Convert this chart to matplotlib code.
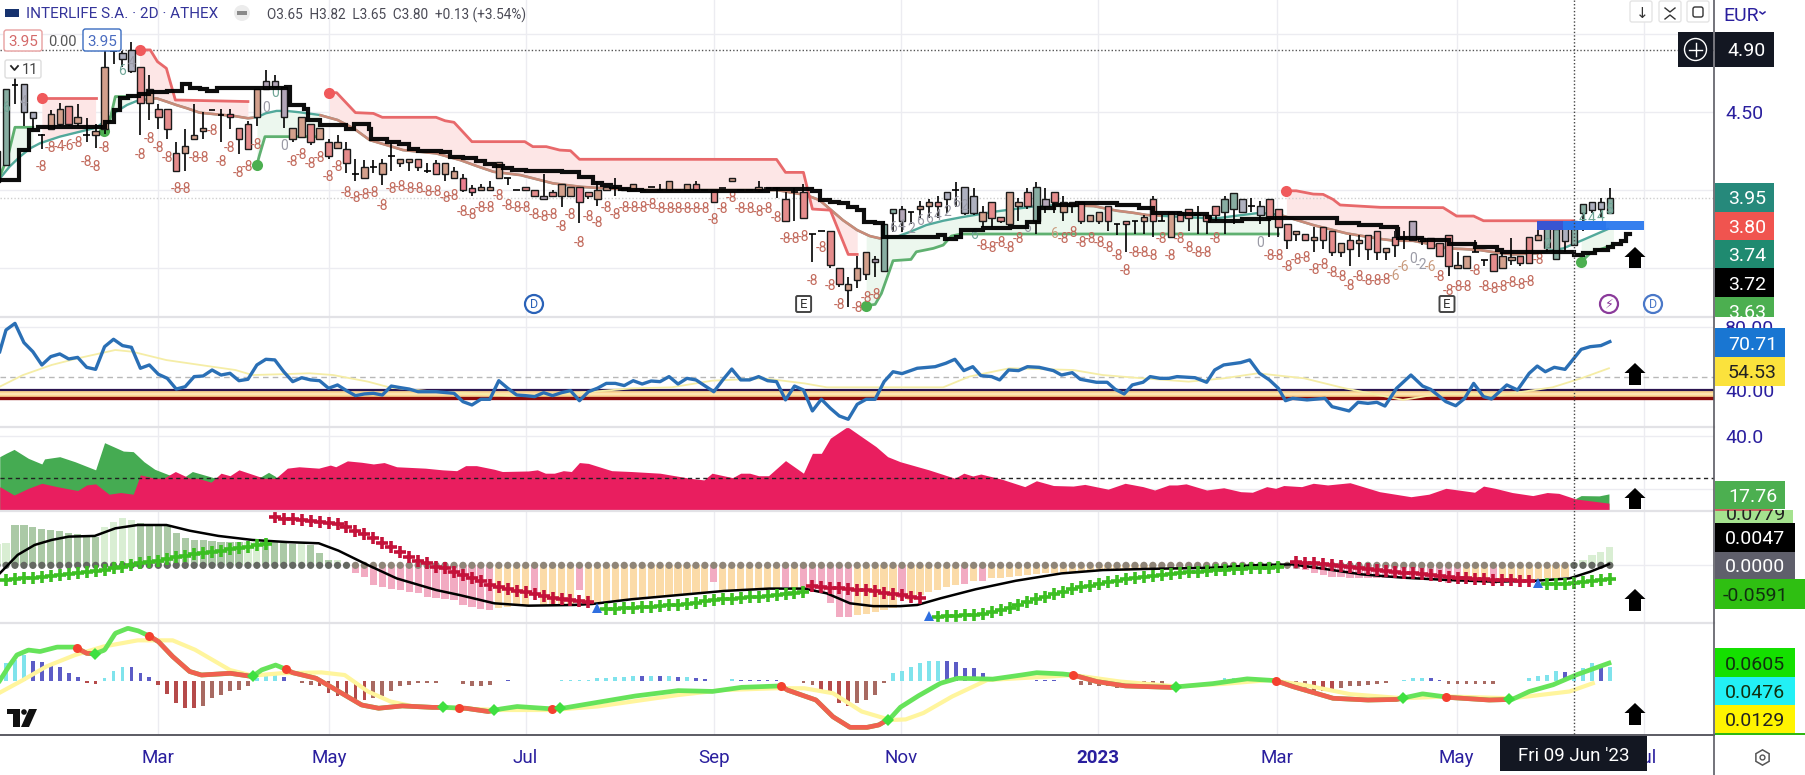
import numpy as np
import matplotlib
matplotlib.use("Agg")
import matplotlib.pyplot as plt
from matplotlib.patches import Rectangle, FancyBboxPatch, Circle, Polygon

plt.rcParams['font.family'] = ['Roboto', 'DejaVu Sans']

# ---------- candles (bar index = position in list) ----------
highs = [4.25,4.65,4.72,4.68,4.50,4.36,4.51,4.56,4.54,4.55,4.46,4.42,4.94,4.90,4.89,4.95,4.79,4.74,4.55,4.52,
 4.31,4.39,4.55,4.50,4.51,4.52,4.52,4.40,4.44,4.65,4.77,4.74,4.66,4.40,4.47,4.42,4.40,4.33,4.35,4.31,
 4.20,4.19,4.19,4.20,4.30,4.20,4.20,4.20,4.17,4.19,4.17,4.15,4.10,4.03,4.04,4.06,4.18,4.08,4.00,4.02,
 4.00,4.10,4.00,4.04,4.02,4.02,3.99,4.06,4.02,4.08,4.01,4.04,4.00,4.02,4.04,4.06,4.00,4.04,4.06,4.00,
 4.00,4.01,4.08,4.00,4.00,4.06,4.01,4.02,3.99,4.01,4.04,3.72,3.74,3.74,3.50,3.44,3.58,3.60,3.58,3.80,
 3.88,3.90,3.86,3.93,3.94,3.96,3.99,4.05,4.02,4.01,3.90,3.92,3.83,3.99,3.95,4.01,4.05,4.01,3.99,3.96,
 3.92,3.92,3.84,3.86,3.90,3.78,3.80,3.80,3.84,3.96,3.84,3.86,3.86,3.88,3.90,3.84,3.90,3.96,3.98,3.94,
 3.95,3.93,3.94,3.88,3.78,3.74,3.72,3.76,3.76,3.74,3.66,3.71,3.71,3.71,3.74,3.63,3.74,3.74,3.80,3.69,
 3.69,3.66,3.71,3.60,3.58,3.68,3.55,3.59,3.60,3.69,3.58,3.70,3.75,3.76,3.78,3.80,3.80,3.91,3.92,3.95,4.01]
body_top = [4.25,4.65,4.67,4.68,4.50,4.35,4.49,4.52,4.54,4.47,4.35,4.38,4.79,4.89,4.88,4.90,4.79,4.65,4.52,4.52,
 4.24,4.28,4.35,4.40,4.51,4.48,4.49,4.40,4.42,4.65,4.70,4.70,4.66,4.40,4.47,4.42,4.40,4.31,4.31,4.26,
 4.10,4.15,4.15,4.17,4.22,4.20,4.20,4.20,4.12,4.17,4.17,4.12,4.08,4.01,4.02,4.02,4.18,4.08,4.00,4.02,
 4.00,3.96,3.99,4.04,4.02,4.02,3.99,4.00,4.02,4.01,4.01,4.04,4.00,4.02,4.00,4.06,4.00,4.04,4.04,4.00,
 4.00,4.01,4.08,4.00,4.00,4.02,4.01,4.01,3.94,3.99,3.99,3.72,3.74,3.74,3.50,3.40,3.50,3.60,3.56,3.78,
 3.88,3.88,3.86,3.90,3.92,3.92,3.99,4.00,4.02,3.96,3.86,3.92,3.83,3.99,3.92,3.99,4.02,3.94,3.99,3.92,
 3.92,3.92,3.84,3.86,3.90,3.78,3.80,3.80,3.83,3.94,3.80,3.86,3.86,3.88,3.84,3.84,3.90,3.94,3.98,3.94,
 3.90,3.90,3.94,3.88,3.78,3.74,3.72,3.70,3.76,3.74,3.66,3.68,3.68,3.71,3.74,3.63,3.70,3.69,3.80,3.69,
 3.69,3.66,3.71,3.52,3.58,3.60,3.55,3.59,3.58,3.57,3.58,3.70,3.71,3.76,3.75,3.78,3.80,3.91,3.92,3.92,3.95]
body_bot = [4.05,4.16,4.66,4.50,4.46,4.35,4.39,4.42,4.42,4.43,4.35,4.35,4.39,4.89,4.84,4.76,4.56,4.56,4.47,4.39,
 4.12,4.24,4.33,4.38,4.51,4.48,4.47,4.33,4.26,4.47,4.65,4.66,4.47,4.33,4.34,4.31,4.33,4.22,4.27,4.17,
 4.10,4.08,4.15,4.10,4.22,4.17,4.18,4.15,4.12,4.10,4.10,4.08,4.00,3.99,4.00,4.00,4.08,4.08,4.00,4.00,
 3.96,3.94,3.96,3.96,3.96,3.92,3.96,3.94,4.00,4.01,4.00,4.00,4.00,4.02,4.00,4.00,4.00,4.00,4.00,4.00,
 3.92,4.01,4.06,4.00,4.00,4.00,4.01,4.01,3.80,3.99,3.82,3.72,3.74,3.52,3.40,3.36,3.42,3.46,3.54,3.48,
 3.85,3.80,3.86,3.88,3.90,3.90,3.94,4.00,3.85,3.85,3.80,3.82,3.80,3.78,3.90,3.90,3.80,3.90,3.92,3.86,
 3.90,3.80,3.80,3.80,3.80,3.78,3.78,3.80,3.80,3.80,3.80,3.70,3.80,3.82,3.84,3.80,3.84,3.86,3.88,3.86,
 3.90,3.84,3.82,3.76,3.68,3.72,3.68,3.68,3.68,3.60,3.60,3.62,3.66,3.62,3.60,3.60,3.65,3.69,3.68,3.67,
 3.63,3.58,3.51,3.50,3.50,3.60,3.55,3.48,3.50,3.55,3.53,3.53,3.68,3.63,3.56,3.67,3.65,3.85,3.87,3.88,3.85]
lows = [4.00,4.16,4.55,4.41,4.39,4.26,4.39,4.41,4.41,4.41,4.31,4.27,4.36,4.81,4.79,4.75,4.35,4.45,4.39,4.33,
 4.12,4.12,4.33,4.33,4.51,4.31,4.39,4.23,4.26,4.41,4.65,4.66,4.40,4.31,4.34,4.29,4.33,4.20,4.26,4.11,
 4.06,4.08,4.11,4.03,4.12,4.15,4.12,4.12,4.11,4.10,4.06,4.08,3.99,3.96,4.00,4.00,4.08,4.03,4.00,4.00,
 3.96,3.94,3.96,3.89,3.96,3.79,3.94,3.90,4.00,3.96,4.00,4.00,4.00,4.02,4.00,4.00,4.00,4.00,4.00,4.00,
 3.92,4.01,4.06,4.00,4.00,3.99,4.01,3.95,3.80,3.80,3.82,3.54,3.74,3.50,3.38,3.25,3.37,3.42,3.44,3.48,
 3.73,3.73,3.78,3.82,3.82,3.82,3.85,3.89,3.84,3.84,3.76,3.76,3.79,3.78,3.80,3.88,3.72,3.85,3.85,3.80,
 3.85,3.78,3.80,3.78,3.74,3.71,3.60,3.72,3.72,3.70,3.80,3.70,3.80,3.74,3.72,3.72,3.80,3.72,3.78,3.86,
 3.86,3.78,3.70,3.70,3.62,3.67,3.68,3.60,3.62,3.58,3.57,3.51,3.57,3.55,3.55,3.55,3.57,3.62,3.68,3.65,
 3.63,3.57,3.45,3.50,3.50,3.60,3.51,3.48,3.50,3.52,3.51,3.53,3.68,3.60,3.56,3.60,3.65,3.74,3.85,3.82,3.85]
candle_tone = ("kkxggxttrt" "xttxggrtrr" "rtttxxdrrt" "mmmttrtrtr" "xtxtxttrxr" "ttpptttxxr"
               "rmrttprttx" "ttxxxtxtrx" "rxtxxtxxrx" "rxxrrtttmk" "kmxttrgxgg" "trrttrkmrt"
               "rrttrxrxtr" "xtrrxrrkkg" "xgrrrtrtrr" "trtrrtrxmt" "rrrttxxrtt" "rrtkkgkkgg" "k")
tone_colors = {'k':'#88ada2','g':'#aeb0bf','m':'#b3a6b8','t':'#d3a08c','r':'#e58c8c','p':'#ea7f90','d':'#e4566a','x':'#000000'}

# ---------- wave labels under the candles ----------
wave_bars = [5,6,7,8,9,10,11,12,16,17,18,19,20,21,22,23,24,25,26,27,28,29,33,34,35,36,
 37,38,39,40,41,42,43,44,45,46,47,48,49,50,51,52,53,54,55,56,57,58,59,60,61,62,63,64,65,66,67,68,69,70,71,
 72,73,74,75,76,77,78,79,80,81,82,83,84,85,86,87,88,89,90,91,92,93,94,96,97,98,
 110,111,112,113,114,119,120,121,122,123,124,125,126,127,128,129,130,131,132,133,134,135,136,142,143,
 144,145,146,147,148,149,150,151,152,153,154,155,161,162,163,164,165,166,167,168,169,170,171,172]
wave_vals = [4.146,4.267,4.278,4.282,4.30,4.182,4.146,4.267,4.225,4.325,4.267,4.203,4.005,4.005,4.203,4.203,4.381,4.182,4.267,4.107,4.146,4.289,4.182,4.225,4.167,4.203,
 4.081,4.145,3.979,3.947,3.968,3.979,3.90,4.006,4.021,4.004,4.006,3.985,3.985,3.947,3.964,3.861,3.84,3.882,3.882,3.964,3.90,3.882,3.882,3.84,3.825,3.84,3.76,3.84,3.662,3.825,3.786,3.882,3.84,3.882,3.882,
 3.882,3.903,3.876,3.876,3.876,3.876,3.876,3.876,3.807,3.876,3.946,3.876,3.876,3.861,3.876,3.818,3.683,3.683,3.696,3.416,3.626,3.384,3.262,3.241,3.305,3.326,
 3.641,3.626,3.662,3.626,3.684,3.684,3.722,3.662,3.684,3.662,3.626,3.577,3.483,3.598,3.598,3.577,3.684,3.577,3.684,3.626,3.598,3.598,3.684,3.577,3.577,
 3.504,3.551,3.562,3.487,3.519,3.466,3.44,3.384,3.44,3.418,3.418,3.423,3.44,3.354,3.38,3.38,3.483,3.38,3.363,3.38,3.401,3.391,3.412,3.551]
wave_texts = ["-8","-8","-4","-6","-8"] + ["-8"]*(len(wave_bars)-5)
faint_bars = [1,3,14,15,30,31,32,100,101,102,103,104,105,106,107,108,109,115,118,141,156,157,158,159,160,173,177,178,179,180]
faint_vals = [4.525,4.567,4.76,4.817,4.525,4.62,4.282,3.754,3.769,3.747,3.803,3.814,3.835,3.861,3.914,3.897,3.711,3.754,3.718,3.662,3.45,3.504,3.555,3.519,3.504,3.647,3.812,3.812,3.825,3.872]
faint_texts = ["6","4","6","4","0","0","0","6","4","2","6","6","4","2","6","2","6","6","6","0","-6","-6","0","-2","-6","2","4","4","4","5"]
faint_tones = ["k","g","k","g","g","k","g","g","g","g","g","g","g","g","g","g","k","g","t","g","t","t","g","g","t","k","k","k","k","k"]

# ---------- trend lines on the price pane ----------
stair_bars = [0,2.5,3.6,4.6,12,13,13.7,14.6,15.8,17,19,20.6,21.5,22.6,23.4,24.5,32.3,32.7,34.3,34.7,36,39,39.8,41.5,41.7,43.5,44.9,46,47,49.5,50.5,52,53.5,54.5,55.5,56.5,57.5,59,63,65,66.5,67.5,68.5,69.5,70.5,72,86,91,91.8,93,94,95,96,96.8,98,98.9,105,105.8,107,107.6,110,113,115,116.3,118,120.5,125,127.5,129,132,135,135.4,139,142,143,149.5,152,154.5,156.2,156.4,159,162,165,167.4,168,176,177,178.3,179.8,180.4,181.2,181.8,182.2]
stair_vals = [4.064,4.257,4.385,4.406,4.438,4.513,4.588,4.605,4.614,4.631,4.635,4.678,4.655,4.646,4.637,4.652,4.66,4.545,4.519,4.449,4.417,4.389,4.423,4.389,4.325,4.31,4.293,4.261,4.252,4.246,4.214,4.205,4.188,4.167,4.154,4.142,4.128,4.124,4.117,4.085,4.047,4.031,4.021,4.009,4.0,3.995,4.004,3.995,3.935,3.925,3.915,3.893,3.871,3.797,3.786,3.70,3.711,3.683,3.696,3.743,3.754,3.765,3.797,3.882,3.904,3.914,3.904,3.882,3.85,3.844,3.829,3.803,3.812,3.822,3.818,3.786,3.775,3.76,3.75,3.69,3.679,3.654,3.632,3.615,3.60,3.583,3.594,3.615,3.632,3.654,3.67,3.72,3.72]
ema_bars = [0.33,1.4,2.56,3.7,4.8,7,9.25,11.1,12.2,13.3,14.5,15.6,17.8,18.9,20,21.2,22.6,24.5,26.4,28,29,30,31.2,32.3,33.8,36,38,39.8,41.6,43.5,45.3,49,51.7,53.5,55.4,58.4,62,65,67.6,71.7,87,90.3,91.8,93.1,94.4,96,97.4,98.5,100.4,101.9,103.7,105.6,107.6,111.3,115.5,118.5,122.4,125,126.8,128.3,133,136,139,141,143.2,146.9,150.6,154.4,156,158,159.9,161.8,163.6,165.5,167.4,169.2,171.8,172.6,174.8,177.4,179.8]
ema_vals = [4.075,4.15,4.214,4.267,4.30,4.342,4.374,4.40,4.449,4.502,4.545,4.571,4.588,4.567,4.545,4.524,4.496,4.485,4.475,4.46,4.466,4.492,4.507,4.507,4.498,4.481,4.449,4.395,4.32,4.288,4.256,4.235,4.192,4.154,4.117,4.096,4.043,4.021,4.011,4.0,4.0,3.968,3.935,3.871,3.807,3.743,3.705,3.69,3.70,3.732,3.775,3.803,3.825,3.861,3.893,3.904,3.897,3.867,3.854,3.84,3.825,3.818,3.84,3.854,3.84,3.775,3.722,3.686,3.675,3.675,3.654,3.626,3.622,3.615,3.598,3.587,3.594,3.604,3.626,3.69,3.75]
ema_brown_zones = [(15.7,28.5),(36,98.7),(119,130),(143.4,172.3)]

red_a_bars = [5,11]; red_a_vals = [4.592,4.592]
red_b_bars = [15.9,17.1,17.9,18.9,19.9,28]; red_b_vals = [4.898,4.898,4.823,4.78,4.577,4.567]
red_c_bars = [37.1,37.9,40,42,43,49,50,51,53,58.9,59.8,61.3,62.8,64,65,71.7,87,88,90,91,93,95,96]
red_c_vals = [4.624,4.624,4.496,4.491,4.466,4.466,4.444,4.434,4.31,4.31,4.278,4.278,4.256,4.252,4.197,4.197,4.196,4.113,4.113,3.878,3.871,3.587,3.587]
red_d_bars = [143.9,145,146.9,148,149.1,149.9,154.4,161.4,162.9,164.8,165.9,171.8,175.9]
red_d_vals = [3.995,3.995,3.974,3.972,3.94,3.904,3.889,3.887,3.833,3.833,3.803,3.803,3.803]
green_a_bars = [0.3,1.2,2,4]; green_a_vals = [4.086,4.214,4.402,4.402]
green_b_bars = [11.9,12.6,13.2,15]; green_b_vals = [4.378,4.449,4.599,4.599]
green_c_bars = [29,29.3,29.9,36]; green_c_vals = [4.161,4.225,4.342,4.342]
green_d_bars = [97,98,98.7,99.5,100,102,102.6,104.5,105.6,106.5,107.6,143]
green_d_vals = [3.258,3.267,3.337,3.465,3.547,3.555,3.604,3.626,3.647,3.705,3.718,3.718]
green_e_bars = [176.8,177.8,178.9,180.4]; green_e_vals = [3.54,3.594,3.619,3.647]

# ---------- RSI ----------
rsi_bars = [0.3,1,2,3,4,5,6,7,8,9,10,11,12,13,14,15,16,17,18,19,20,21,22,23,24,25,26,27,28,29,30,31,32,33,34,35,36,37,38,39,40,41,42,43,44,45,46,47,49,51,52,53,54,55,56,57,58,59,60,61,62,63,64,65,66,67,68,69,70,71,72,73,74,75,76,77,78,80,81,82,83,84,85,86,87,88,89,90,91,92,93,94,95,96,97,98,99,100,101,102.7,104.7,105.9,106.9,107.9,108.9,109.8,111,111.9,112.9,114,115,116.3,117.9,118.8,120,120.9,122.7,123.9,124.8,125.8,126.7,127.9,128.7,129.8,130.8,131.7,133.7,135,135.9,136.9,138.8,139.8,140.9,142,143,143.8,144.6,146.2,148.2,149,150.9,151.9,153,154,154.9,156.2,157.8,159.1,160,161.7,162.8,163.8,164.8,165.9,166.8,168.5,169.7,171,171.9,172.8,173.8,175,176.8,177.8,179,180]
rsi_vals = [64.3,78.1,82.3,70.1,64.3,55.9,61.2,62.9,59.7,60.7,54.4,53.1,67.5,72.2,68.2,67.1,53.8,55.9,50,47.4,40.6,42.1,48.5,48.9,52.7,49.5,50.6,45.9,46.8,55.9,59.5,59.1,51.6,45.3,47.8,46.4,45.9,41.1,43.2,39.6,36.4,37.5,37.9,36.8,42.5,41.5,40.6,38.9,38.9,37.9,32.6,30.5,34.1,34.1,45.9,41.1,36.8,36.4,35.8,38.3,36.4,38.3,39.6,33.2,38.9,41.1,44.2,44.2,42.8,45.9,43.8,45.7,45.3,48.5,43.8,47.4,46.4,38.9,46.4,53.3,46.4,46.4,48.5,45.9,45.3,33.7,42.5,40,26.7,34.1,28.4,23.5,21.4,30.9,34.1,34.1,45.3,51.6,50.4,53.8,54.8,57,59.5,52.3,54.8,49.1,48.5,46.4,52.7,52.3,54.8,54.4,52.3,49.5,51,46.8,44.9,44.9,40.4,37.5,43.2,44.9,48.5,47.4,47.4,48.5,47.8,44.9,52.7,55.9,57.4,59.1,50.6,46.4,41.1,33.2,34.7,33.7,34.7,29.4,26.7,32.2,31.5,32.2,29.8,41.1,49.5,42.5,40.4,32.6,30,34.7,44.2,35.8,34.3,43.2,40,50.6,55.2,51.6,54.4,53.1,65.8,67.5,68.2,70.71]
rsi_ma_bars = [0.3,2.9,6.1,9,13.2,15.1,18.9,24,26.6,28.5,31.7,34.9,37.5,41.4,43.9,49,58,64.4,70.8,75.3,79.8,85.6,90.1,92.6,105.6,108.5,113,120.1,123.4,127.9,133,136.9,140.7,145.9,150.4,156.9,161.4,167.8,173.6,176.8,179.9]
rsi_ma_vals = [42.1,49.5,55.9,60.1,65.4,64.3,59,54.8,52.7,49.5,50,50.6,49.5,45.3,41.5,38.9,36.2,37.9,41,41.7,45.9,47.4,44.2,41.7,41.7,48.5,53.8,52.7,49.5,47.4,45.3,47.4,50.6,47.4,41.1,33.7,37.9,36.8,41.7,47.4,53.8]

# ---------- directional movement areas ----------
di_minus_bars = [0.3,1.9,3.5,5,6.7,9,10,11,12.5,13.8,15.2,16,17.6,18.6,19.9,21.5,22.4,23.9,25,26,27,28.5,29.8,31.1,32.4,33.7,35.9,37.2,37.8,39.1,40.7,42,43.2,44.6,47.8,49.7,51.3,52.3,53.5,55.5,56.4,59.3,60.3,61.2,62.2,63.2,64.1,65,66,68.6,70.8,74,77.3,78.9,79.8,82.1,83,84,85,86.1,88,90,91,92,93,94.9,96.2,98.1,99.4,100.8,104,106.9,107.9,108.9,109.8,112.1,114.7,116,117.9,120.1,121.4,124,125.9,127.9,129.2,130.8,131.7,132.7,135,136.9,138.8,140.1,141.7,142.7,143.6,145.6,146.9,148.5,151,154.3,157.8,159.8,161.7,164.9,165.9,167.2,169.1,171.4,173,174.3,176.2,179.9]
di_minus_vals = [21.9,18.9,21.3,23.1,21.9,20.5,22.5,22.9,19.2,19.8,19.2,26.1,24.9,24.9,27.3,24.9,24.9,23.5,26.7,25.8,27.9,26.3,24.9,24.9,28.5,29,28.5,29.6,29,31.1,30.6,30,30.5,29,28.5,27.9,27.6,29.4,29.4,28.1,27.3,27.5,27.9,26.7,26.7,27.6,27.3,30.5,30.2,27.6,27.3,26.7,24.9,24.3,26.7,25.1,26.7,26.7,25.8,25.8,31.2,26.7,33.8,33.8,39.2,43.3,40.4,36.2,32.6,30.8,27.9,24.9,26.7,25.7,26.4,24.6,21.9,24,22.3,22.1,22.7,21,23.1,21.9,20.7,22.5,22.5,22.9,20.7,21.5,20.1,19.9,21.9,21.3,22.3,21.9,23.1,22.5,23.3,20.1,18.3,19.2,21.3,19.9,22.1,21.3,19.8,18.7,19.8,19.5,17.5,16]
di_plus_early_bars = [0.3,1,1.9,3.5,5,5.3,7,8.7,11,12,14.1,15.2,16.4,17.6,19.2,20.8,21.8,24.4,29.5,30.3,31.1]
di_plus_early_vals = [32.6,33.8,35.2,32,30,31.8,32.6,30.8,27.9,37.6,34.6,34.4,30.8,28.1,26.1,25.1,27.3,24.9,25.5,27,25.5]
di_plus_late_bars = [176.2,176.8,178.8,179.9]
di_plus_late_vals = [17.7,18.7,18.6,19.3]

# ---------- first oscillator ----------
hist_vals = [.09,.096,.17,.17,.16,.153,.149,.146,.138,.132,.128,.121,.163,.184,.198,.191,.18,.174,.172,.167,
 .138,.114,.107,.107,.104,.1,.097,.097,.097,.097,.097,.097,.093,.09,.093,.086,.051,.023,.023,.004,
 -.034,-.051,-.083,-.093,-.101,-.104,-.111,-.118,-.132,-.139,-.142,-.146,-.167,-.177,-.186,-.188,-.181,-.174,-.167,-.167,
 -.118,-.167,-.167,-.167,-.167,-.104,-.163,-.156,-.153,-.149,-.146,-.142,-.139,-.135,-.132,-.129,-.125,-.121,-.118,-.115,
 -.069,-.111,-.108,-.104,-.101,-.1,-.098,-.097,-.09,-.097,-.097,-.104,-.111,-.158,-.217,-.217,-.21,-.205,-.198,-.188,
 -.181,-.139,-.146,-.125,-.111,-.104,-.093,-.083,-.079,-.065,-.065,-.055,-.052,-.048,-.044,-.041,-.037,-.034,-.031,-.028,
 -.027,-.025,-.024,-.023,-.023,-.022,-.022,-.021,-.02,-.02,-.019,-.018,-.018,-.017,-.016,-.015,-.014,-.013,-.012,-.012,
 -.011,-.01,-.01,-.008,-.009,-.017,-.02,-.034,-.041,-.048,-.051,-.055,-.055,-.055,-.055,-.055,-.055,-.055,-.055,-.055,
 -.055,-.062,-.073,-.069,-.065,-.065,-.073,-.079,-.069,-.065,-.062,-.059,-.056,-.055,-.052,-.048,.008,.023,.044,.058,.0779]
hist_tones = ("PP" "DDDDDDDDDD" "PPPP" "DDDDDDDDDDDD" "PP" "DDDD" "P" "DDD" "P" "D"
              "KKKKKKKKKKKKKKKK" "OOOO" "K" "OOOO" "K" "OOOOOOOOOOOOOO" "K" "OOOOOOO" "K" "O" "KKKKKK" "OOOOO" "K" "OOOOOO" "K" "O" "K"
              "OOOOOOOOOOOOOOOOOOOOOOOOOOOOOOOOO" "KKKKKKKKKKKKKKKKKKKK" "OOO" "K" "OOOOOOOO" "PPPPP")
hist_colors = {'P':'#d9eed3','D':'#abc9a6','K':'#f2abc2','O':'#fbdba8'}
osc_bars = [0.3,2.3,4.2,6.1,8,10.9,13.2,15.7,18.9,21.5,24.7,28.5,32.4,35.9,38.1,41.4,44.6,49,51.6,55.5,59.3,64.4,66.4,70.8,77.3,81.1,86.2,90.1,92.6,95.2,97.8,100.8,102.7,105.3,109.2,113.7,118.8,123.4,128.5,135.6,140.7,144.6,148.5,152.3,156.9,162,167.2,171.7,175.5,177.8,179.9]
osc_vals = [-.034,.044,.086,.107,.121,.124,.156,.17,.17,.146,.124,.107,.098,.093,.062,.001,-.055,-.104,-.125,-.16,-.17,-.167,-.163,-.143,-.121,-.108,-.098,-.098,-.118,-.16,-.172,-.172,-.167,-.139,-.101,-.065,-.034,-.02,-.015,-.01,.001,.004,-.017,-.038,-.052,-.062,-.069,-.065,-.055,-.027,.0047]
sar_up_1_start = 1
sar_up_1 = [-.062,-.058,-.055,-.052,-.048,-.045,-.042,-.038,-.034,-.03,-.025,-.02,-.013,-.006,.001,.008,.015,.02,.027,.034,.041,.046,.052,.056,.062,.068,.072,.079,.084,.09]
sar_dn_1_start = 31
sar_dn_1 = [.203,.197,.194,.191,.187,.184,.18,.173,.163,.146,.132,.114,.096,.076,.058,.037,.02,.008,-.006,-.013,-.027,-.041,-.055,-.065,-.083,-.093,-.101,-.108,-.114,-.122,-.129,-.136,-.142,-.146,-.149,-.153]
sar_up_2_start = 68
sar_up_2 = [-.184,-.183,-.181,-.18,-.177,-.174,-.172,-.169,-.166,-.163,-.158,-.152,-.146,-.143,-.141,-.138,-.135,-.132,-.129,-.127,-.122,-.118,-.114]
sar_dn_2_start = 91
sar_dn_2 = [-.087,-.091,-.094,-.097,-.1,-.103,-.105,-.11,-.115,-.121,-.127,-.132,-.138]
sar_up_3_start = 105
sar_up_3 = [-.217,-.215,-.214,-.211,-.208,-.203,-.195,-.188,-.179,-.167,-.156,-.143,-.132,-.121,-.111,-.101,-.093,-.086,-.079,-.072,-.065,-.059,-.055,-.051,-.046,-.042,-.038,-.034,-.03,-.027,-.024,-.021,-.018,-.017,-.014,-.013,-.011,-.01,-.008]
sar_dn_3_start = 145
sar_dn_3 = [.013,.011,.008,.004,.001,-.003,-.007,-.011,-.015,-.02,-.024,-.027,-.031,-.034,-.037,-.041,-.045,-.048,-.052,-.055,-.058,-.059,-.06,-.062,-.063,-.065,-.066]
sar_up_4_start = 173
sar_up_4 = [-.08,-.079,-.077,-.075,-.072,-.068,-.063,-.0591]
flip_bars = [67,104,172]
flip_vals = [-.181,-.214,-.073]

# ---------- second oscillator ----------
macd_bars = [0.3,1.3,2.2,3.5,4.8,6.7,8.7,10,10.9,12,13.2,14.6,15.7,17,18,19.6,21.5,22.8,26,28.5,29.5,31.1,32.2,33,35.6,37.2,38.8,40.7,42.6,45.2,48.4,50,52.3,54.8,56.1,58,61.9,63.1,66.4,70.8,76,79.8,83,87.5,88.2,91.4,93.3,95.2,97.1,98.4,99.7,100.8,102.7,105.3,107.2,111.1,113.7,116,118.8,120.1,122.7,125.9,131,135.5,139.5,142.7,144.6,149.1,153,156.2,159.1,162,166.5,169.1,171,173.6,176.2,179.9]
macd_vals = [.001,.049,.088,.105,.1,.115,.115,.094,.092,.105,.162,.179,.171,.153,.134,.083,.032,.02,.026,.015,.037,.054,.04,.028,.009,-.019,-.048,-.082,-.093,-.085,-.09,-.09,-.093,-.104,-.096,-.087,-.095,-.093,-.076,-.053,-.033,-.036,-.022,-.017,-.031,-.065,-.122,-.158,-.158,-.15,-.127,-.09,-.053,-.008,.009,.006,.017,.028,.024,.02,-.002,-.017,-.022,-.010,.007,.001,-.019,-.059,-.065,-.063,-.044,-.056,-.065,-.063,-.036,-.014,.02,.0605]
macd_red_zones = [(8.9,10.9),(17,28.6),(32.2,49.8),(51.6,55.5),(61.9,62.8),(87.5,99.4),(120.1,131.6),(142.7,156.9),(161.7,168.8)]
signal_bars = [0.3,2.9,5.5,8.7,11.9,15.7,19.6,22.1,26,28.5,31.7,36.2,38.8,41.4,43.9,46.5,51,56.1,61.9,67,76,81.1,86.9,90.1,93.3,96.5,99.7,101.4,103.4,106.6,110.5,117.5,120.1,125.3,131.7,136.9,142,145.9,151,156.9,161.7,169.1,175.5,178.1]
signal_vals = [-.040,.003,.049,.088,.117,.138,.138,.106,.037,.018,.026,.029,.020,-.036,-.07,-.087,-.093,-.099,-.099,-.087,-.048,-.031,-.025,-.025,-.042,-.104,-.133,-.131,-.109,-.053,.003,.015,.02,-.002,-.019,-.010,.003,-.014,-.045,-.059,-.053,-.059,-.036,-.008]
hist2_bars = [1,2,3,4,5,6,7,8,9,10,11,12,13,14,15,16,17,18,19,20,21,22,23,24,25,26,27,28,29,30,31,32,34,35,36,37,38,39,40,41,42,43,44,45,46,47,48,49,52,53,54,55,56,57,58,59,63,64,65,66,67,68,69,70,71,72,73,74,75,76,77,78,79,82,83,84,85,86,87,90,91,92,93,94,95,96,97,98,99,100,101,102,103,104,105,106,107,108,109,110,111,112,114,115,116,117,118,121,122,123,124,125,126,127,128,129,130,137,138,139,140,141,142,143,144,145,146,147,148,149,150,151,152,153,154,155,157,158,159,160,161,162,163,164,165,166,167,171,172,173,174,175,176,177,178,179,180]
hist2_vals = [.062,.071,.088,.069,.066,.058,.046,.028,.015,-.006,-.01,.009,.035,.049,.046,.028,.015,-.014,-.044,-.074,-.093,-.093,-.087,-.059,-.048,-.036,-.031,-.019,.011,.018,.026,.015,-.008,-.014,-.019,-.042,-.05,-.059,-.065,-.065,-.059,-.053,-.036,-.019,-.014,-.008,-.007,-.006,-.01,-.017,-.017,-.015,.001,.003,.001,.001,.003,.003,.002,.003,.009,.011,.015,.015,.017,.018,.017,.018,.017,.012,.012,.009,.006,.006,.003,.003,.003,.003,.003,-.008,-.014,-.031,-.042,-.076,-.087,-.076,-.065,-.048,-.008,.026,.034,.049,.06,.069,.069,.069,.066,.043,.043,.026,.015,.003,.001,.001,.003,.003,.003,-.014,-.014,-.017,-.019,-.025,-.025,-.023,-.019,-.017,-.014,.009,.009,.009,.009,.007,.003,-.008,-.014,-.019,-.025,-.036,-.036,-.036,-.025,-.019,-.017,-.014,-.011,-.008,.003,.009,.009,.009,.003,-.009,-.009,-.009,-.009,-.009,-.009,.009,.017,.02,.034,.032,.02,.043,.06,.049,.0476]
hist2_tones = list("cccii" "iiiirr" "ccc" "iii" "rrrrr" "dddddd" "ccc" "i"
                   "dd" "rrrrrr" "dddddddd" "dddd" "c" "iii" "ccccccccc" "icicicii" "c" "iiiii"
                   "dd" "rrrr" "dddd" "cccccc" "iiiiiii" "cc" "iii" "dddddddddd" "cccc" "ii"
                   "dddd" "rrr" "dddddd" "ccc" "ii" "dddddd" "cccc" "i" "ccc" "i" "c")
tone2 = {'c':'#7fe3ec','i':'#5c5cc6','r':'#b54a4a','d':'#a86a62'}

month_bars = [17.97,37.05,58.98,79.99,100.9,122.9,142.9,162.9,183.8]
month_labels = ["Mar","May","Jul","Sep","Nov","2023","Mar","May","Jul"]

# ---------- layout ----------
W, H = 1805, 775
PANE_R = 1714
fig = plt.figure(figsize=(W/100, H/100), dpi=100, facecolor='white')
xl = (2.96/8.96, (PANE_R+2.96)/8.96)
NAVY = '#2a1f9e'

def pane(top, bot, ylim):
    ax = fig.add_axes([0, 1-bot/H, PANE_R/W, (bot-top)/H])
    ax.set_xlim(*xl); ax.set_ylim(*ylim)
    for s in ax.spines.values():
        s.set_visible(False)
    ax.set_xticks(month_bars); ax.set_xticklabels([])
    ax.tick_params(length=0)
    ax.grid(True, color='#ececf1', lw=1); ax.set_axisbelow(True)
    ax.yaxis.tick_right()
    ax.tick_params(axis='y', labelsize=14, labelcolor=NAVY, pad=8)
    ax.patch.set_alpha(0)
    return ax

ax1 = pane(0, 317, (3.186, 5.218))
ax2 = pane(317, 427, (16.5, 86.35))
ax3 = pane(427, 511, (13.2, 43.2))
ax4 = pane(511, 623, (-.243, .229))
ax5 = pane(623, 735, (-.184, .197))

ax1.set_yticks([5, 4.5, 4, 3.5]); ax1.set_yticklabels(["","4.50","4.00","3.50"])
ax2.set_yticks([80, 40]); ax2.set_yticklabels(["80.00","40.00"])
ax3.set_yticks([40, 21]); ax3.set_yticklabels(["40.0",""])
ax4.set_yticks([0]); ax4.set_yticklabels([""])
ax5.set_yticks([])
ax5.set_xticklabels(month_labels, fontsize=13.5, color=NAVY)
ax5.tick_params(axis='x', pad=10)
for lbl in ax5.get_xticklabels():
    if lbl.get_text() == "2023":
        lbl.set_fontweight('bold')

# price pane
grid = np.linspace(0, 181, 1500)
ema_grid = np.interp(grid, ema_bars, ema_vals)
def stop_fill(bars, vals, color):
    g = np.linspace(bars[0], bars[-1], 300)
    ax1.fill_between(g, np.interp(g, bars, vals), np.interp(g, ema_bars, ema_vals), color=color, lw=0, zorder=1)
for b, v in [(red_a_bars, red_a_vals), (red_b_bars, red_b_vals), (red_c_bars, red_c_vals), (red_d_bars, red_d_vals)]:
    stop_fill(b, v, '#fde6e6')
for b, v in [(green_a_bars, green_a_vals), (green_b_bars, green_b_vals), (green_c_bars, green_c_vals), (green_d_bars, green_d_vals), (green_e_bars, green_e_vals)]:
    stop_fill(b, v, '#ecf7ee')
ax1.plot(ema_bars, ema_vals, color='#52a99b', lw=1.7, zorder=2)
for a, b in ema_brown_zones:
    m = (grid >= a) & (grid <= b)
    ax1.plot(grid[m], ema_grid[m], color='#c98a78', lw=1.9, zorder=2.1)
for b, v in [(red_a_bars, red_a_vals), (red_b_bars, red_b_vals), (red_c_bars, red_c_vals), (red_d_bars, red_d_vals)]:
    ax1.plot(b, v, color='#e8696b', lw=2, zorder=2.2)
    ax1.plot(b[0], v[0], 'o', color='#f0595b', ms=8, mew=0, zorder=2.3)
for b, v in [(green_a_bars, green_a_vals), (green_b_bars, green_b_vals), (green_c_bars, green_c_vals), (green_d_bars, green_d_vals), (green_e_bars, green_e_vals)]:
    ax1.plot(b, v, color='#5fb070', lw=2, zorder=2.2)
    if b is not green_a_bars:
        ax1.plot(b[0], v[0], 'o', color='#4caf50', ms=8, mew=0, zorder=2.3)

xs = np.arange(len(highs))
ax1.vlines(xs, lows, highs, color='black', lw=1.2, zorder=3)
for i in xs:
    tone = candle_tone[i]
    if tone == 'x':
        ax1.hlines(body_top[i], i-.38, i+.38, color='black', lw=1.2, zorder=3)
    else:
        ax1.bar(i, body_top[i]-body_bot[i], bottom=body_bot[i], width=.72, color=tone_colors[tone], edgecolor='#1a1a1a', lw=1, zorder=3.1)
for b, v, t in zip(wave_bars, wave_vals, wave_texts):
    ax1.text(b, v, t, color='#c26a5c', fontsize=10, ha='center', va='center', zorder=3.4)
faint_col = {'k':'#6fa596','g':'#9b9ba6','t':'#c99a7c'}
for b, v, t, c in zip(faint_bars, faint_vals, faint_texts, faint_tones):
    ax1.text(b, v, t, color=faint_col[c], fontsize=10, ha='center', va='center', zorder=3.4)
ax1.step(stair_bars, stair_vals, where='post', color='black', lw=3, alpha=.95, zorder=4, solid_joinstyle='miter')
ax1.axhline(4.90, color='#555555', lw=1, ls=(0, (1, 1.5)), zorder=2)
ax1.axhline(3.95, color='#cfcfcf', lw=1, ls=(0, (1, 1.5)), zorder=1.5)
ax1.add_patch(Rectangle((171.9, 3.744), 7.7, .057, color='#3a55d2', lw=0, zorder=3.6))
ax1.add_patch(Rectangle((174.8, 3.744), 9, .057, color='#2a78ee', lw=0, zorder=3.6, alpha=.95))

# RSI pane
ax2.axhspan(35, 40, color='#fbd592', lw=0, zorder=1)
ax2.axhspan(36.8, 38.2, color='#fde3b0', lw=0, zorder=1.1)
ax2.axhline(40, color='#2b1450', lw=1.6, zorder=1.5)
ax2.axhline(35, color='#8a0a0a', lw=2.4, zorder=1.5)
ax2.axhline(48, color='#b8b8b8', lw=1, ls=(0, (4, 3)), zorder=1.2)
ax2.plot(rsi_ma_bars, rsi_ma_vals, color='#f5eda6', lw=1.3, zorder=2)
ax2.plot(rsi_bars, rsi_vals, color='#2a6fb5', lw=2.4, zorder=3)

# DMI pane
ax3.fill_between(di_plus_early_bars, di_plus_early_vals, 13.2, color='#45ab52', lw=0, zorder=2)
ax3.fill_between(di_plus_late_bars, di_plus_late_vals, 13.2, color='#45ab52', lw=0, zorder=2)
ax3.fill_between(di_minus_bars, di_minus_vals, 13.2, color='#e91e5f', lw=0, zorder=3)
ax3.axhline(25, color='#222222', lw=1, ls=(0, (3, 2.5)), zorder=4)

# oscillator pane
for i, (v, t) in enumerate(zip(hist_vals, hist_tones)):
    ax4.bar(i, v, width=.8, color=hist_colors[t], lw=0, zorder=2)
dot_cols = ['#646862' if t in 'PD' else '#8f8578' for t in hist_tones]
ax4.scatter(xs, np.zeros(len(xs)), c=dot_cols, s=27, linewidths=0, zorder=3)
ax4.plot(osc_bars, osc_vals, color='black', lw=1.8, zorder=4)
def sar(start, vals, col):
    ax4.plot(np.arange(start, start+len(vals)), vals, '+', color=col, ms=8, mew=2.6, zorder=5)
for st, vals in [(sar_up_1_start, sar_up_1), (sar_up_2_start, sar_up_2), (sar_up_3_start, sar_up_3), (sar_up_4_start, sar_up_4)]:
    sar(st, vals, '#3cbf22')
for st, vals in [(sar_dn_1_start, sar_dn_1), (sar_dn_2_start, sar_dn_2), (sar_dn_3_start, sar_dn_3)]:
    sar(st, vals, '#c4123a')
ax4.plot(flip_bars, flip_vals, '^', color='#2f6fe0', ms=7, mew=0, zorder=6)

# second oscillator pane
for b, v, t in zip(hist2_bars, hist2_vals, hist2_tones + ['c'] * len(hist2_bars)):
    ax5.bar(b, v, width=.42, color=tone2[t], lw=0, zorder=2)
ax5.plot(signal_bars, signal_vals, color='#fff59d', lw=3, zorder=3)
g5 = np.linspace(macd_bars[0], macd_bars[-1], 1500)
m5 = np.interp(g5, macd_bars, macd_vals)
ax5.plot(g5, m5, color='#66e35a', lw=3.4, zorder=4)
for a, b in macd_red_zones:
    m = (g5 >= a) & (g5 <= b)
    ax5.plot(g5[m], m5[m], color='#f0604f', lw=3.4, zorder=4.1)
    for e, c in ((a, '#f4402f'), (b, '#3fe040')):
        ax5.plot(e, np.interp(e, macd_bars, macd_vals), marker='D' if c == '#3fe040' else 'o', color=c, ms=6.5, mew=0, zorder=5)

# ---------- overlay in pixel units: chrome, price tags, arrows ----------
ov = fig.add_axes([0, 0, 1, 1], zorder=10)
ov.set_xlim(0, W); ov.set_ylim(H, 0); ov.axis('off'); ov.patch.set_alpha(0)
def R(x0, y0, x1, y1, **kw):
    ov.add_patch(Rectangle((x0, y0), x1-x0, y1-y0, lw=kw.pop('lw', 0), **kw))
def T(x, y, s, **kw):
    kw.setdefault('ha', 'center'); kw.setdefault('va', 'center_baseline')
    return ov.text(x, y, s, **kw)

for y in (317, 427, 511, 623):
    ov.plot([0, PANE_R], [y, y], color='#e2e2e6', lw=1.6)
ov.plot([0, PANE_R], [735, 735], color='#5b5b63', lw=1.4)
ov.plot([PANE_R, PANE_R], [0, H], color='#5b5b63', lw=1.2)
ov.plot([1573.5, 1573.5], [0, 735], color='#444444', lw=1, ls=(0, (1, 1.5)))

# header
R(5, 9, 19, 17, color='#16326e')
T(26, 13, "INTERLIFE S.A. · 2D · ATHEX", fontsize=11, color='#34349a', ha='left')
ov.add_patch(Circle((242, 13), 8, color='#ececec', lw=0))
R(237, 11, 247, 15, color='#8a8a8a')
T(267, 13.5, "O3.65  H3.82  L3.65  C3.80  +0.13 (+3.54%)", fontsize=9.8, color='#4a4a55', ha='left')
ov.add_patch(FancyBboxPatch((4, 30), 38, 21, boxstyle="round,pad=0,rounding_size=2.5", fc='white', ec='#e8a0a0', lw=1))
T(23, 41, "3.95", fontsize=11, color='#d46a6a')
T(62, 40, "0.00", fontsize=10.5, color='#555555')
ov.add_patch(FancyBboxPatch((83, 29), 38, 22, boxstyle="round,pad=0,rounding_size=2.5", fc='white', ec='#3a6cc0', lw=1))
T(102, 41, "3.95", fontsize=11, color='#4a6cc0')
ov.add_patch(FancyBboxPatch((5, 60), 36, 18, boxstyle="round,pad=0,rounding_size=2", fc='white', ec='#dddddd', lw=1))
ov.plot([11, 14.5, 18], [66, 70, 66], color='#222222', lw=1.3)
T(30, 69, "11", fontsize=10.5, color='#444444')

# top-right buttons
for x0 in (1630, 1659, 1687):
    ov.add_patch(FancyBboxPatch((x0, 1), 22, 21, boxstyle="round,pad=0,rounding_size=2", fc='white', ec='#e4e4e4', lw=1))
T(1642, 12, "↓", fontsize=11, color='#333333')
ov.plot([1665, 1670, 1675], [8, 12, 8], color='#333333', lw=1)
ov.plot([1665, 1670, 1675], [19, 15, 19], color='#333333', lw=1)
ov.add_patch(FancyBboxPatch((1693, 7), 10, 10, boxstyle="round,pad=0,rounding_size=2", fc='white', ec='#333333', lw=1))
T(1741, 14, "EUR", fontsize=14, color=NAVY)
ov.plot([1760, 1762.5, 1765], [12, 14, 12], color=NAVY, lw=1.1)

# partly hidden axis label under the 4.90 tag
T(1746, 39, "5.00", fontsize=14, color=NAVY, zorder=0.5)

# plus button and price tags
R(1678, 32, 1713, 67, color='#131722')
ov.add_patch(Circle((1695.5, 49.5), 11, fc='none', ec='white', lw=1))
ov.plot([1689, 1702], [49.5, 49.5], color='white', lw=1)
ov.plot([1695.5, 1695.5], [43, 56], color='white', lw=1)
tags = [(32, 67, 1774, '#131722', '4.90', 'white'),
        (183, 212, 1774, '#26897b', '3.95', 'white'),
        (212, 240, 1774, '#f0544f', '3.80', 'white'),
        (240, 268, 1774, '#1f8a70', '3.74', 'white'),
        (268, 297, 1774, '#000000', '3.72', 'white'),
        (328, 357, 1785, '#1976d2', '70.71', 'white'),
        (357, 386, 1785, '#fbe23c', '54.53', '#222222'),
        (481, 509, 1785, '#4caf50', '17.76', 'white'),
        (523, 552, 1795, '#000000', '0.0047', 'white'),
        (552, 579, 1795, '#5f5f6b', '0.0000', 'white'),
        (579, 609, 1805, '#2fbf12', '-0.0591', '#103010'),
        (648, 677, 1795, '#14e000', '0.0605', '#103010'),
        (677, 705, 1795, '#22f0f5', '0.0476', '#103010'),
        (705, 733, 1795, '#fff400', '0.0129', '#222222')]
for y0, y1, xr, col, s, tc in tags:
    R(PANE_R+.5, y0, xr, y1, color=col)
    T(1714+(min(xr, 1790)-1714)/2+3, (y0+y1)/2, s, fontsize=14, color=tc)
r = Rectangle((PANE_R+.5, 297), 59.5, 20, color='#4caf50', lw=0); ov.add_patch(r)
t = T(1747, 311, "3.63", fontsize=14, color='white', clip_on=True); t.set_clip_path(r)
r = Rectangle((PANE_R+.5, 510), 78, 13, color='#a5e28f', lw=0); ov.add_patch(r)
t = T(1756, 513, "0.0779", fontsize=14, color='#222222', clip_on=True); t.set_clip_path(r)
R(PANE_R+.5, 509, 1773, 511, color='#c8605f')
R(PANE_R+.5, 733, 1805, 735, color='#2fb812')

# event markers
for x, lab, col in [(534, "D", '#2a62b8'), (1653, "D", '#4a78c8'), (1609, "⚡", '#8a3a9a')]:
    ov.add_patch(Circle((x, 304), 9, fc='white', ec=col, lw=1.6))
    T(x, 304.5, lab, fontsize=9, color=col, va='center')
for x in (803.6, 1447):
    ov.add_patch(FancyBboxPatch((x-7.5, 296), 15, 16, boxstyle="round,pad=0,rounding_size=1.5", fc='white', ec='#444444', lw=1.4))
    T(x, 304.5, "E", fontsize=9.5, color='#333333', va='center')

# black up arrows
for y0, y1 in [(247, 268), (363, 385), (488, 509), (589, 611), (703, 725)]:
    ov.add_patch(Polygon([(1635, y0), (1645.5, y0+10), (1641, y0+10), (1641, y1), (1629, y1), (1629, y0+10), (1624.5, y0+10)], color='black', lw=0))

# logo
R(7, 709, 20, 714, color='#111111'); R(13, 709, 20, 727, color='#111111')
ov.add_patch(Circle((24, 712), 2.8, color='#111111', lw=0))
ov.add_patch(Polygon([(29, 709), (37, 709), (29, 727), (21, 727)], color='#111111', lw=0))

# time tag and gear
R(1500, 736, 1647, 771, color='#131722')
T(1573.5, 754, "Fri 09 Jun '23", fontsize=13.5, color='white')
ov.plot([1762], [757], marker='h', ms=11, mfc='white', mec='#555555', mew=1.1)
ov.plot([1762], [757], marker='o', ms=3.5, mfc='white', mec='#555555', mew=1)

fig.savefig("out.png", dpi=100, facecolor='white')
